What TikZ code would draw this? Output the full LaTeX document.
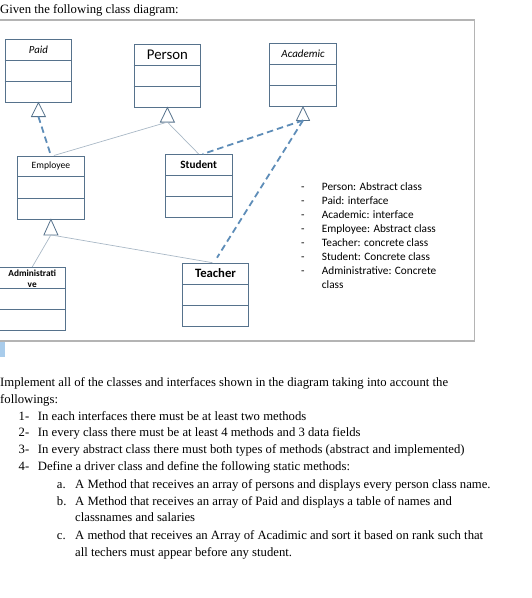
\documentclass[tikz,border=0pt]{standalone}
\usepackage{fontspec}
\setmainfont{Liberation Serif}
\newfontfamily\carl{Carlito}
\usetikzlibrary{calc}
\definecolor{boxc}{HTML}{56728C}
\definecolor{dashc}{HTML}{5E8DB8}
\definecolor{genc}{HTML}{A9B8C6}
\definecolor{framec}{HTML}{B4B4B4}
\definecolor{barc}{HTML}{A9CCEB}
\begin{document}
\begin{tikzpicture}[x=1pt,y=-1pt,
  cls/.style={draw=boxc, line width=0.9pt, minimum width=66.5pt, minimum height=63pt, inner sep=0pt, anchor=north west},
  divl/.style={draw=boxc, line width=0.9pt},
  real/.style={draw=dashc, line width=1.8pt, dash pattern=on 6.5pt off 4pt},
  gen/.style={draw=genc, line width=0.7pt},
  tri/.style={draw=boxc, fill=white, line width=0.8pt},
  body/.style={anchor=base west, inner sep=0pt, font=\fontsize{12.7}{15}\selectfont},
  leg/.style={anchor=base west, inner sep=0pt, font=\carl\fontsize{11.3}{13}\selectfont},
  ttl/.style={inner sep=0pt, font=\carl\fontsize{#1}{#1}\selectfont}
]
\useasboundingbox (0,0) rectangle (531,598);

% frame and bar
\draw[framec, line width=1.5pt] (-3,20) rectangle (474.5,341);
\fill[barc] (0,342) rectangle (5,357);

\node[body] (given) at (0,13) {Given the following class diagram:};

% class boxes
\node[cls] (paid) at (4.7,38.7) {};
\node[cls] (person) at (133.7,43.7) {};
\node[cls] (academic) at (269.3,43) {};
\node[cls] (employee) at (17.2,155.5) {};
\node[cls] (student) at (165,154) {};
\node[cls] (admin) at (-1.5,267) {};
\node[cls] (teacher) at (181.8,262.7) {};

\foreach \n in {paid,person,academic,employee,student,admin,teacher}{
  \draw[divl] ($(\n.north west)!1/3!(\n.south west)$) -- ($(\n.north east)!1/3!(\n.south east)$);
  \draw[divl] ($(\n.north west)!2/3!(\n.south west)$) -- ($(\n.north east)!2/3!(\n.south east)$);
}

% titles
\node[ttl=10.5, font=\carl\itshape\fontsize{10.8}{10.8}\selectfont] (paidL) at ($(paid.north)!1/6!(paid.south)$) {Paid};
\node[ttl=14.8] (personL) at ($(person.north)!1/6!(person.south)$) {Person};
\node[ttl=11, font=\carl\itshape\fontsize{11}{11}\selectfont] (academicL) at ($(academic.north)!1/6!(academic.south)$) {Academic};
\node[ttl=9.6] (employeeL) at ($(employee.north)!1/6!(employee.south)$) {Employee};
\node[ttl=11, font=\carl\bfseries\fontsize{11.2}{11.2}\selectfont] (studentL) at ($(student.north)!1/6!(student.south)$) {Student};
\node[inner sep=0pt, align=center, font=\carl\bfseries\fontsize{9.3}{11}\selectfont] (adminL) at ($(admin.north)+(0,11.5)$) {Administrati\\ve};
\node[ttl=12.5, font=\carl\bfseries\fontsize{12.7}{12.7}\selectfont] (teacherL) at ($(teacher.north)!1/6!(teacher.south)$) {Teacher};

% triangles (base centres)
\draw[tri] (paid.south) -- ++(7,14) -- ++(-14,0) -- cycle;
\coordinate (paidB) at ($(paid.south)+(0,14)$);
\draw[tri] (person.south) -- ++(7,14.5) -- ++(-14,0) -- cycle;
\coordinate (personB) at ($(person.south)+(0,14.5)$);
\draw[tri] (academic.south) -- ++(6.5,13.5) -- ++(-13,0) -- cycle;
\coordinate (academicB) at ($(academic.south)+(0,13.5)$);
\draw[tri] (employee.south) -- ++(7,15.5) -- ++(-14,0) -- cycle;
\coordinate (employeeB) at ($(employee.south)+(0,15.5)$);

% connectors
\draw[real] (paidB) -- (employee.north);
\draw[gen] (personB) -- ($(employee.north)+(3,0)$);
\draw[gen] (personB) -- (student.north);
\draw[real] (academicB) -- ($(student.north)+(4,0)$);
\draw[real] (academicB) -- ($(teacher.north)+(1.5,-5)$);
\draw[gen] (employeeB) -- (admin.north);
\draw[gen] (employeeB) -- ($(teacher.north)+(-3,0)$);

% legend
\foreach \t [count=\i from 0] in {Person: Abstract class, Paid: interface, Academic: interface, Employee: Abstract class, Teacher: concrete class, Student: Concrete class, Administrative: Concrete}{
  \node[leg] (legd\i) at (301,190.7+14*\i) {-};
  \node[leg] (legt\i) at (321.7,190.7+14*\i) {\t};
}
\node[leg] (legt7) at (321.7,288.7) {class};

% body text
\node[body] (l1) at (0,386.7) {Implement all of the classes and interfaces shown in the diagram taking into account the};
\node[body] (l2) at (0,403.4) {followings:};
\node[body] (n1) at (18.5,420.1) {1-}; \node[body] (t1) at (37.7,420.1) {In each interfaces there must be at least two methods};
\node[body] (n2) at (18.5,436.8) {2-}; \node[body] (t2) at (37.7,436.8) {In every class there must be at least 4 methods and 3 data fields};
\node[body] (n3) at (18.5,453.9) {3-}; \node[body] (t3) at (37.7,453.9) {In every abstract class there must both types of methods (abstract and implemented)};
\node[body] (n4) at (18.5,470.7) {4-}; \node[body] (t4) at (37.7,470.7) {Define a driver class and define the following static methods:};
\node[body] (na) at (56.7,488.3) {a.}; \node[body] (ta) at (75,488.3) {A Method that receives an array of persons and displays every person class name.};
\node[body] (nb) at (56.7,505) {b.}; \node[body] (tb) at (75,505) {A Method that receives an array of Paid and displays a table of names and};
\node[body] (tb2) at (75,521.7) {classnames and salaries};
\node[body] (nc) at (56.7,539) {c.}; \node[body] (tc) at (75,539) {A method that receives an Array of Acadimic and sort it based on rank such that};
\node[body] (tc2) at (75,556) {all techers must appear before any student.};
\end{tikzpicture}
\end{document}
